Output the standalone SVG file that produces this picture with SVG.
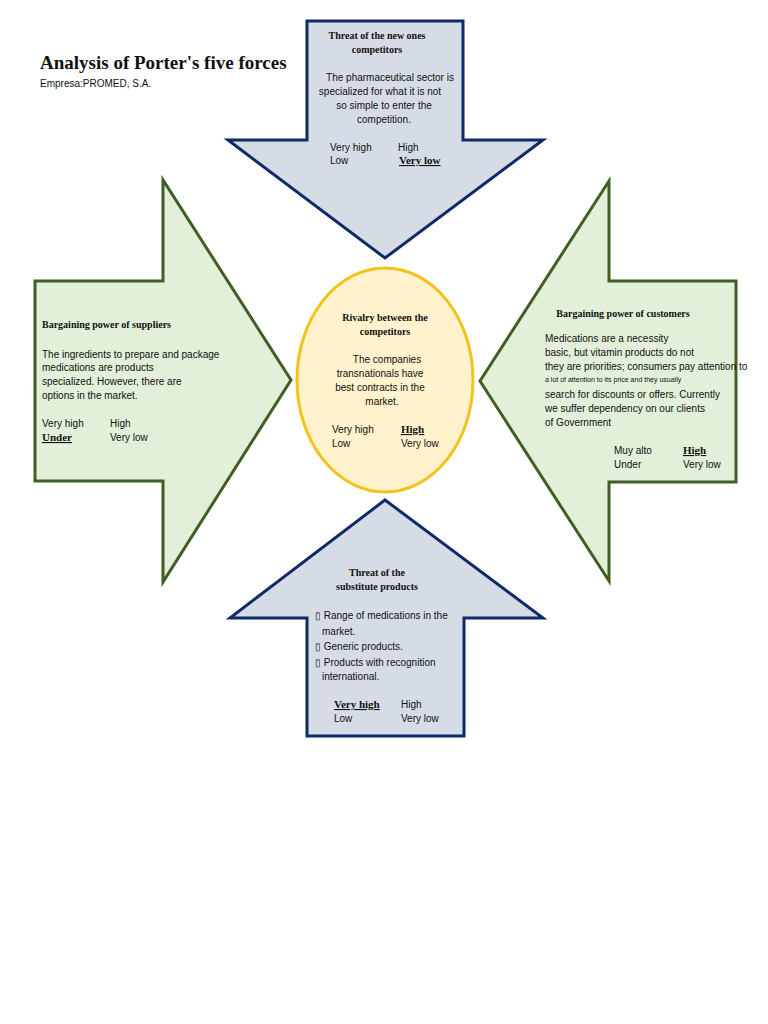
<svg xmlns="http://www.w3.org/2000/svg" width="768" height="1024" viewBox="0 0 768 1024">
<style>
.b{fill:#d6dce5;stroke:#0f2a6b;stroke-width:3}
.g{fill:#e2efd9;stroke:#3f5f23;stroke-width:3}
.h{font-family:"Liberation Serif",serif;font-weight:bold;font-size:10px;fill:#111}
.t{font-family:"Liberation Sans",Arial,sans-serif;font-size:10px;fill:#111}
.s{font-family:"Liberation Sans",Arial,sans-serif;font-size:7px;fill:#111}
.u{font-family:"Liberation Serif",serif;font-weight:bold;font-size:11px;fill:#111;text-decoration:underline}
</style>
<rect width="768" height="1024" fill="#fff"/>
<text x="40" y="69" font-family="Liberation Serif,serif" font-weight="bold" font-size="19" fill="#111">Analysis of Porter's five forces</text>
<text x="40" y="87" class="t" font-size="11">Empresa:PROMED, S.A.</text>
<g id="top">
<polygon class="b" points="307,21 463,21 463,140 543,140 385,258 228,140 307,140"/>
<text class="h" x="377" y="39" text-anchor="middle">Threat of the new ones</text>
<text class="h" x="377" y="53" text-anchor="middle">competitors</text>
<text class="t" x="390" y="81" text-anchor="middle">The pharmaceutical sector is</text>
<text class="t" x="380" y="95" text-anchor="middle">specialized for what it is not</text>
<text class="t" x="384" y="109" text-anchor="middle">so simple to enter the</text>
<text class="t" x="384" y="123" text-anchor="middle">competition.</text>
<text class="t" x="330" y="151">Very high</text><text class="t" x="398" y="151">High</text>
<text class="t" x="330" y="164">Low</text><text class="u" x="399" y="164">Very low </text>
</g>
<g id="left">
<polygon class="g" points="35,281 163,281 163,180 291,380 163,582 163,481 35,481"/>
<text class="h" x="42" y="328">Bargaining power of suppliers</text>
<text class="t" x="42" y="358">The ingredients to prepare and package</text>
<text class="t" x="42" y="371">medications are products</text>
<text class="t" x="42" y="385">specialized.  However,  there  are</text>
<text class="t" x="42" y="399">options in the market.</text>
<text class="t" x="42" y="427">Very high</text><text class="t" x="110" y="427">High</text>
<text class="u" x="42" y="441">Under</text><text class="t" x="110" y="441">Very low</text>
</g>
<g id="right">
<polygon class="g" points="736,281 609,281 609,181 480,381 609,581 609,482 736,482"/>
<text class="h" x="623" y="317" text-anchor="middle">Bargaining power of customers</text>
<text class="t" x="545" y="342">Medications are a necessity</text>
<text class="t" x="545" y="356">basic, but vitamin products do not</text>
<text class="t" x="545" y="370">they are priorities; consumers pay attention to</text>
<text class="s" x="545" y="382">a lot of attention to its price and they usually</text>
<text class="t" x="545" y="398">search for discounts or offers. Currently</text>
<text class="t" x="545" y="412">we suffer dependency on our clients</text>
<text class="t" x="545" y="426">of Government</text>
<text class="t" x="614" y="454">Muy alto</text><text class="u" x="683" y="454">High</text>
<text class="t" x="614" y="468">Under</text><text class="t" x="683" y="468">Very low</text>
</g>
<g id="center">
<ellipse cx="385" cy="380" rx="88" ry="112" fill="#fff2cc" stroke="#f5c21b" stroke-width="3"/>
<text class="h" x="385" y="321" text-anchor="middle">Rivalry between the</text>
<text class="h" x="385" y="335" text-anchor="middle">competitors</text>
<text class="t" x="387" y="363" text-anchor="middle">The companies</text>
<text class="t" x="380" y="377" text-anchor="middle">transnationals have</text>
<text class="t" x="380" y="391" text-anchor="middle">best contracts in the</text>
<text class="t" x="382" y="405" text-anchor="middle">market.</text>
<text class="t" x="332" y="433">Very high</text><text class="u" x="401" y="433">High</text>
<text class="t" x="332" y="447">Low</text><text class="t" x="401" y="447">Very low</text>
</g>
<g id="bottom">
<polygon class="b" points="385,500 543,618 464,618 464,736 307,736 307,618 230,618"/>
<text class="h" x="377" y="576" text-anchor="middle">Threat of the</text>
<text class="h" x="377" y="590" text-anchor="middle">substitute products</text>
<text class="t" x="315" y="619">▯ Range of medications in the</text>
<text class="t" x="322" y="635">market.</text>
<text class="t" x="315" y="650">▯ Generic products.</text>
<text class="t" x="315" y="666">▯ Products with recognition</text>
<text class="t" x="322" y="680">international.</text>
<text class="u" x="334" y="708">Very high</text><text class="t" x="401" y="708">High</text>
<text class="t" x="334" y="722">Low</text><text class="t" x="401" y="722">Very low</text>
</g>
<g id="connectors"/>
</svg>
